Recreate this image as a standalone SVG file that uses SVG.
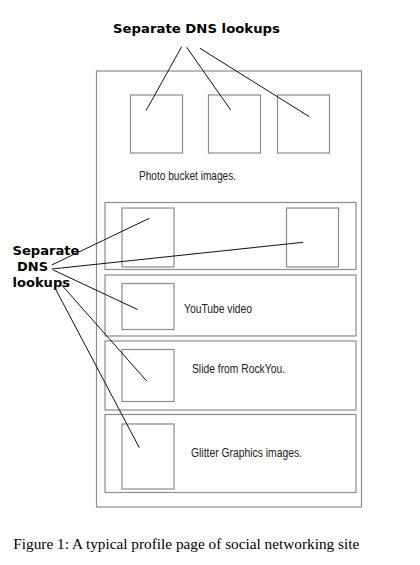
<svg xmlns="http://www.w3.org/2000/svg" width="420" height="565" viewBox="0 0 420 565">
<style>
.box{fill:none;stroke:#8c8c8c;stroke-width:1.2}
.ln{fill:none;stroke:#111;stroke-width:1}
.lbl{font-family:"Liberation Sans",Arial,sans-serif;font-size:12.5px;fill:#222}
.dns{font-family:"DejaVu Sans",Verdana,sans-serif;font-weight:bold;font-size:13px;fill:#000}
.cap{font-family:"Liberation Serif","Times New Roman",serif;font-size:14px;fill:#000}
</style>
<rect width="420" height="565" fill="#fff"/>
<g id="page"><rect class="box" x="96.5" y="71" width="265" height="436"/></g>
<g id="photo1"><rect class="box" x="130.5" y="95" width="52" height="58"/></g>
<g id="photo2"><rect class="box" x="208.5" y="95" width="52" height="58"/></g>
<g id="photo3"><rect class="box" x="277.5" y="95" width="52" height="58"/></g>
<g id="photo-label"><text class="lbl" x="139" y="180" textLength="97" lengthAdjust="spacingAndGlyphs">Photo bucket images.</text></g>
<g id="panel1">
<rect class="box" x="105" y="202.5" width="251" height="67"/>
<rect class="box" x="122" y="208" width="52" height="59"/>
<rect class="box" x="286.5" y="208" width="52" height="59"/>
</g>
<g id="panel2">
<rect class="box" x="105" y="275" width="251" height="61"/>
<rect class="box" x="122" y="283.5" width="52" height="46"/>
<text class="lbl" x="184" y="313" textLength="68" lengthAdjust="spacingAndGlyphs">YouTube video</text>
</g>
<g id="panel3">
<rect class="box" x="105" y="341" width="251" height="69"/>
<rect class="box" x="122" y="349.5" width="52" height="52"/>
<text class="lbl" x="192" y="373" textLength="93" lengthAdjust="spacingAndGlyphs">Slide from RockYou.</text>
</g>
<g id="panel4">
<rect class="box" x="105" y="414.5" width="251" height="78"/>
<rect class="box" x="122" y="424" width="52" height="65"/>
<text class="lbl" x="191" y="457" textLength="111" lengthAdjust="spacingAndGlyphs">Glitter Graphics images.</text>
</g>
<g id="dns-top"><text class="dns" x="113" y="33" textLength="167" lengthAdjust="spacingAndGlyphs">Separate DNS lookups</text></g>
<g id="dns-left">
<text class="dns" x="12.5" y="254.5" textLength="67" lengthAdjust="spacingAndGlyphs">Separate</text>
<text class="dns" x="17" y="271" textLength="31" lengthAdjust="spacingAndGlyphs">DNS</text>
<text class="dns" x="12.5" y="286.5" textLength="57.5" lengthAdjust="spacingAndGlyphs">lookups</text>
</g>
<g id="connectors">
<line class="ln" x1="181.7" y1="46.7" x2="146" y2="110.7"/>
<line class="ln" x1="186.7" y1="47.3" x2="230.7" y2="110"/>
<line class="ln" x1="200" y1="48.3" x2="309.3" y2="116.7"/>
<line class="ln" x1="51.7" y1="265" x2="149.3" y2="218.3"/>
<line class="ln" x1="51.7" y1="269" x2="303.3" y2="242.3"/>
<line class="ln" x1="53.3" y1="270" x2="137.5" y2="309.5"/>
<line class="ln" x1="61.7" y1="285" x2="146.7" y2="381"/>
<line class="ln" x1="55" y1="288" x2="139.3" y2="447.7"/>
</g>
<g id="caption"><text class="cap" x="13.3" y="548.5" textLength="346" lengthAdjust="spacingAndGlyphs">Figure 1: A typical profile page of social networking site</text></g>
</svg>
